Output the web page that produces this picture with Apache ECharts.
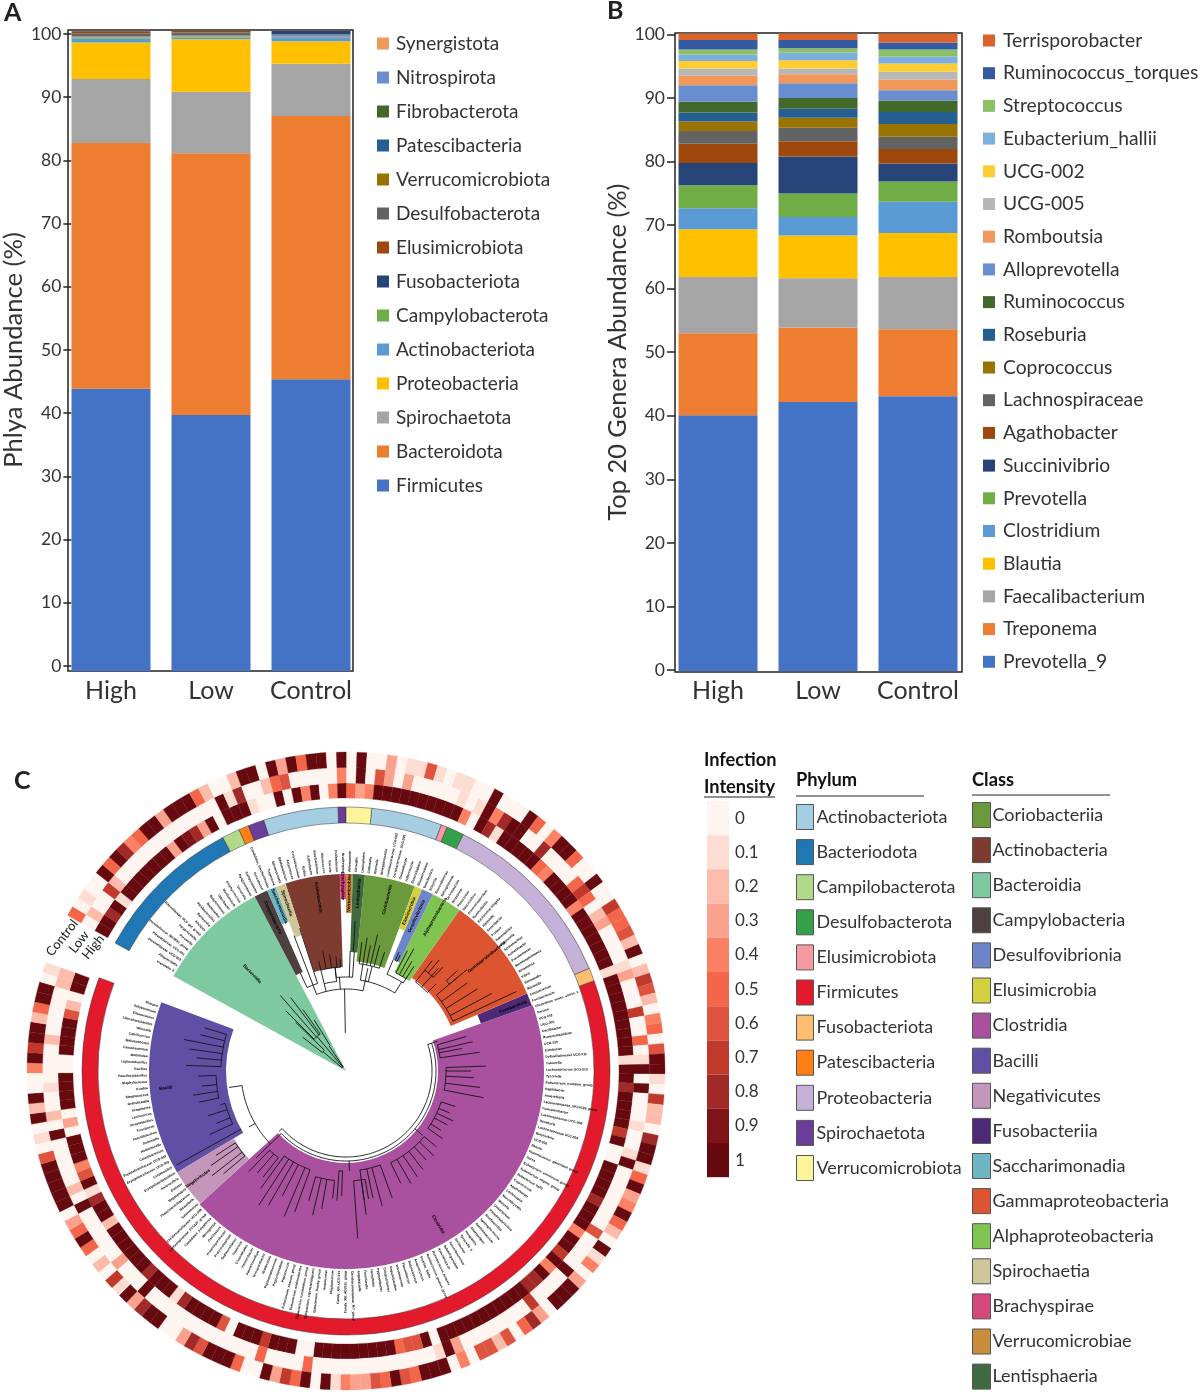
<!DOCTYPE html>
<html><head><meta charset="utf-8"><title>Chart</title>
<script src="https://cdn.jsdelivr.net/npm/echarts@6/dist/echarts.min.js"></script>
<style>html,body{margin:0;padding:0;background:#fff}#c{width:1200px;height:1396px}</style></head>
<body><div id="c"></div>
<script>
const groups=['High','Low','Control'];
const phylaNames=['Firmicutes','Bacteroidota','Spirochaetota','Proteobacteria','Actinobacteriota','Campylobacterota','Verrucomicrobiota','Patescibacteria','Fibrobacterota','Synergistota','Nitrospirota','Desulfobacterota','Elusimicrobiota','Fusobacteriota'];
const phylaColors=['#4472c4','#ed7d31','#a5a5a5','#ffc000','#5b9bd5','#70ad47','#997300','#255e91','#43682b','#f1975a','#698ed0','#636363','#9e480e','#264478'];
const phylaHigh=[44.1,38.4,10.0,5.7,0.6,0.15,0.03,0.02,0.03,0.02,0.1,0.5,0.3,0.05];
const phylaLow=[40.0,40.9,9.6,8.2,0.3,0.1,0.03,0.02,0.03,0.02,0.1,0.45,0.25,0];
const phylaControl=[45.6,41.1,8.2,3.5,0.6,0.03,0.02,0.02,0.03,0.02,0.25,0.1,0.03,0.5];
const phylaLegendOrder=['Synergistota','Nitrospirota','Fibrobacterota','Patescibacteria','Verrucomicrobiota','Desulfobacterota','Elusimicrobiota','Fusobacteriota','Campylobacterota','Actinobacteriota','Proteobacteria','Spirochaetota','Bacteroidota','Firmicutes'];
const generaNames=['Prevotella_9','Treponema','Faecalibacterium','Blautia','Clostridium','Prevotella','Succinivibrio','Agathobacter','Lachnospiraceae','Coprococcus','Roseburia','Ruminococcus','Alloprevotella','Romboutsia','UCG-005','UCG-002','Eubacterium_hallii','Streptococcus','Ruminococcus_torques','Terrisporobacter'];
const generaColors=['#4472c4','#ed7d31','#a5a5a5','#ffc000','#5b9bd5','#70ad47','#264478','#9e480e','#636363','#997300','#255e91','#43682b','#698ed0','#f1975a','#b7b7b7','#ffcd33','#7cafdd','#8cc168','#335aa1','#d9632a'];
const generaHigh=[40.1,12.9,8.8,7.5,3.3,3.6,3.5,3.0,2.0,1.5,1.4,1.7,2.6,1.5,1.1,1.2,1.0,0.8,1.5,1.0];
const generaLow=[42.2,11.7,7.7,6.7,2.9,3.7,5.8,2.4,2.1,1.6,1.4,1.7,2.3,1.4,0.9,1.3,1.2,0.7,1.3,1.0];
const generaControl=[43.1,10.5,8.2,6.9,4.9,3.2,2.8,2.3,1.9,2.0,1.9,1.8,1.6,1.7,1.2,1.3,1.1,1.1,1.1,1.4];
const heatHigh=[1,1,.8,1,.1,1,1,1,1,1,1,1,.3,1,.9,.8,.3,1,0,1,1,1,.1,0,0,1,0,1,.4,1,0,.4,
1,.5,.3,.4,1,1,1,1,1,1,1,1,1,1,.4,0,1,.8,.1,1,1,1,1,1,.5,.4,1,1,1,1,.4,1,1,1,1,1,1,1,.1,1,1,1,1,1,1,1,1,1,.1,
1,1,.8,1,1,1,1,.7,1,0,0,1,1,1,1,.8,1,1,1,.4,1,1,.7,1,.4,1,.8,.8,1,1,1,1,1,1,1,1,1,1,1,0,1,.6,.6,.5,1,1,1,1,1,
1,1,1,1,0,0,1,1,1,.7,1,1,1,0,.6,1,1,1,1,.8,.1,1,1,1,.8,1,1,1,1,1,1,.2,1,1,.8,.1,1,.6,.4,1,1,1,0,.3,0,1,1,1,1,0,0,1,1,1,1,.6,.2,0,1,1];
const heatLow=[0,.2,0,0,.7,.2,0,0,0,0,0,0,0,0,0,0,0,0,0,1,.1,.8,0,0,.2,.5,.6,0,0,0,0,0,
.4,0,1,0,.6,.3,0,.3,0,0,0,0,0,.1,0,.1,1,.4,.8,1,1,0,0,.8,0,0,0,0,.5,.7,.5,0,.2,.3,0,0,0,0,.1,.3,0,0,0,.7,0,0,.5,0,.1,
1,0,1,0,0,0,.1,0,0,.1,1,0,0,0,0,0,0,0,.6,0,0,0,0,1,0,0,0,0,.7,0,0,0,0,0,0,0,0,.3,1,.1,0,0,0,0,0,0,0,0,0,
0,0,0,0,.5,0,0,0,0,.5,0,0,0,0,0,0,0,0,0,0,0,0,0,1,0,0,0,.3,0,0,0,0,0,0,1,0,.2,0,0,0,0,0,1,0,.2,0,0,.1,0,0,0,0,.2,0,0,0,0,0,.2,.2];
const heatControl=[.5,0,.1,0,0,1,.5,1,.8,.4,.5,1,1,.3,1,1,1,.5,.2,0,0,.2,1,1,0,1,.3,1,.5,1,1,0,
1,0,1,0,0,.3,0,.1,.1,.6,.1,0,.1,.1,0,0,1,0,0,0,1,.5,0,.4,1,1,.5,0,0,1,0,0,.7,.5,.5,.6,.2,1,0,.2,.7,.6,.2,0,.4,.5,0,.6,1,
1,.1,0,.7,.2,.2,0,.8,1,1,.1,.5,1,.3,.4,1,.5,.2,0,1,.1,.4,0,.3,1,1,1,0,.3,.8,.5,0,.6,.2,.6,.6,0,.4,0,1,1,1,.5,.6,1,.5,.6,.3,.3,
.4,.1,1,0,1,.5,.7,.3,1,0,0,.5,1,1,1,.6,.8,.3,0,0,1,1,.8,.3,1,.1,.7,0,.2,0,.5,1,.5,.3,0,1,1,1,1,1,.6,0,.1,0,1,.2,1,0,0,.4,1,.7,1,1,.2,.5,1,1,0,.1];
const heatColors=['#fef5f0','#fddcd2','#fcbcab','#fba28e','#fb8064','#f4664a','#de5340','#c0392b','#a12a28','#7f1418','#670a10'];
const heatLevels=[0,.1,.2,.3,.4,.5,.6,.7,.8,.9,1];
const heatStartAngle=-60.8;
const heatCell=1.846;
const ringBands=[[273,288],[288,303.5],[303.5,319]];
const phylumOrder=['Actinobacteriota','Bacteriodota','Campilobacterota','Desulfobacterota','Elusimicrobiota','Firmicutes','Fusobacteriota','Patescibacteria','Proteobacteria','Spirochaetota','Verrucomicrobiota'];
const phylumColors=['#a6cee3','#1f78b4','#b2d98a','#33a04a','#f49aa0','#e31a2c','#fdbf6f','#ff7f14','#c5b0d8','#6a3d9a','#fbf49a'];
const phylumArcs=[[[-18.2,-1.7],[5.6,21.2]],[[-61,-27.8]],[[-27.8,-23.9]],[[22.5,26.4]],[[21.2,22.5]],[[70,290.7]],[[67.1,70]],[[-23.9,-21.7]],[[26.4,67.1]],[[-21.7,-18.2],[-1.7,0]],[[0,5.6]]];
const classOrder=['Coriobacteriia','Actinobacteria','Bacteroidia','Campylobacteria','Desulfovibrionia','Elusimicrobia','Clostridia','Bacilli','Negativicutes','Fusobacteriia','Saccharimonadia','Gammaproteobacteria','Alphaproteobacteria','Spirochaetia','Brachyspirae','Verrucomicrobiae','Lentisphaeria'];
const classColors=['#6b9a3c','#7e3c30','#7fc9a0','#4e4040','#6e85c9','#d5d040','#a9509f','#6050a5','#c596bb','#4e2a76','#6fb5c4','#dd5530','#80c452','#cfc69a','#d6487a','#c98c3c','#3f6a3f'];
const classAngles=[[5.5,20.4],[-17.9,-1.8],[-61.2,-27.6],[-27.6,-23.6],[22.7,26.2],[20.4,22.7],[70.6,227.7],[239,290.4],[227.7,239],[66.8,70.6],[-23.6,-20.9],[35.2,66.8],[26.2,35.2],[-20.9,-17.9],[-1.8,0],[0,2],[2,5.5]];
const classInnerR=[110,104,0,108,121,152,92,120,131,143,160,114,110,143,172,158,119];
const classOuterR=[197,197,197,197,197,197,198,197,197,197,197,197,197,197,197,197,197];
const classLabelPos=[[13.5,176],[-9,176],[-44,135],[-25.5,170],[24.5,170],[21.5,172],[149,179],[264.6,181],[234,183],[69,179],[-22,178],[51,181],[30,178],[-19.4,178],[-1,185],[1,178],[4,178]];
const leafBacteroidia=['Prevotella_9','Alloprevotella','Prevotellaceae_UCG-003','Prevotellaceae_UCG-001','Prevotellaceae_NK3B31_group','Prevotella','Paraprevotella','Rikenellaceae_RC9_gut_group','Alistipes','Barnesiella','Parabacteroides','Bacteroides','Butyricimonas','Odoribacter','Muribaculum','Porphyromonas','Tannerella','Dysgonomonas'];
const leafOthersTop=['Campylobacter','Helicobacter','Candidatus_Saccharimonas','Treponema','Sphaerochaeta','Bifidobacterium','Actinomyces','Corynebacterium','Rothia','Arthrobacter','Brevibacterium','Micrococcus','Kocuria','Cutibacterium','Brachyspira','Akkermansia','Victivallis','Lentisphaera','Collinsella','Olsenella','Senegalimassilia','Coriobacteriaceae_UCG-002','Coriobacteriaceae_UCG-003','Gordonibacter','Adlercreutzia','Enterorhabdus','Elusimicrobium','Desulfovibrio','Bilophila','Brevundimonas','Sphingomonas','Ochrobactrum','Rhizobium','Paracoccus','Succinivibrio','Anaerobiospirillum','Ruminobacter','Escherichia-Shigella','Klebsiella','Enterobacter','Proteus','Haemophilus','Pasteurella','Actinobacillus','Acinetobacter','Pseudomonas','Stenotrophomonas','Aeromonas','Vibrio','Shewanella','Moraxella','Cetobacterium','Fusobacterium'];
const leafClostridia=['Clostridium_sensu_stricto_1','Sarcina','UCG-002','UCG-005','Oscillibacter','Ruminiclostridium','UCG-010','Catabacter','Defluviitaleaceae UCG-011','Tuzzerella','Lachnospiraceae UCG-010','Tyzzerella','Eubacterium_nodatum_group','Papillibacter','Anaerofustis','Lachnospiraceae_NK4A136_group','Fusicatenibacter','Lachnospiraceae UCG-008','Roseburia','Lachnospiraceae UCG-004','Butyrivibrio','UCG-009','Blautia','Ruminococcus_gauvreauii_group','Dorea','Eubacterium_ventriosum_group','Eubacterium_eligens_group','Eubacterium_hallii','Coprococcus','Agathobacter','Lachnospira','Marvinbryantia','Moryella','Oribacterium','Pseudobutyrivibrio','Shuttleworthia','Syntrophococcus','Acetitomaculum','Anaerostipes','Hungatella','Tyzzerella_3','Sellimonas','Faecalibacterium','Subdoligranulum','Ruminococcus','Ruminococcus_torques','Ruminococcus_gnavus_group','Incertae_Sedis','Anaerotruncus','Butyricicoccus','Flavonifractor','Intestinimonas','Negativibacillus','Colidextribacter','Pygmaiobacter','Harryflintia','Fournierella','Angelakisella','Christensenellaceae_R-7_group','Family_XIII_AD3011_group','Family_XIII_UCG-001','Mogibacterium','Anaerovorax','Eubacterium_brachy_group','Eubacterium_coprostanoligenes','Eubacterium_ruminantium_group','Eubacterium_oxidoreducens','Eubacterium_siraeum_group','Peptococcus','Peptoclostridium','Peptostreptococcus','Romboutsia','Terrisporobacter','Paeniclostridium','Intestinibacter','Clostridioides','Tissierella','Sedimentibacter','Proteiniclasticum','Anaerosporobacter','Oscillospira','Monoglobus','Candidatus_Soleaferrea','Lachnospiraceae_FCS020_group','Christensenellaceae_UCG-008'];
const leafNegativicutes=['Selenomonas','Mitsuokella','Phascolarctobacterium','Megasphaera','Dialister','Anaerovibrio'];
const leafBacilli=['Erysipelatoclostridium','Lactobacillus','Erysipelotrichaceae_UCG-009','Erysipelotrichaceae_UCG-003','Catenibacterium','Holdemanella','Dubosiella','Faecalibaculum','Turicibacter','Streptobacillus','Lactococcus','Ureaplasma','Granulicatella','Streptococcus','Kurthia','Staphylococcus','Paucilactobacillus','Bacillus','Ligilactobacillus','Mobilitalea','Carnobacterium','Melissococcus','Catellicoccus','Weissella','Limosilactobacillus','Enterococcus','Solobacterium','Sharpea'];
// tree combs: base radius, then (angle, tip radius) pairs
const treeCombs=[[5,-50,30,-40,45,-34,30],[30,-52,55,-46,70],[45,-45,85,-41,100,-37,92,-35,75],[30,-32,60],
[38,-1,82],[82,-21,92,-14,90,-4,94,12,92],[92,-25,108,-21,145,-18,150],[90,-14,104,-6,104],[94,-6,105,2,120,4,120],[92,9,108,14,108],[92,12,105,32,105],[105,23,121,33,112],
[104,-14,113,-11,122,-8,118,-5,115,-3,112],[120,3.5,150],[108,7,130,9,135,11,128,13,140,15,130,18,125],[121,24,130,25,128],[110,27,135,29,140,31,128,33,125],
[113,38,128,42,138,46,125],[128,38,140,40,145,43,142],[118,50,145,54,150,58,155,62,165,65,188],[135,48,150,50,158],
[86,72,90,228,90],[90,72,96,130,100,178,100,226,105],[95,74,125,77,130,79,118,82,135],[100,88,140,90,125,93,128,97,135,101,140],[100,108,115,112,112,115,118,118,115,122,112,125,118],[102,130,118,134,122,138,120,142,125,146,128,150,130,154,125],[100,160,135,165,140,168,130,172,130],[110,170,130,176,168,172,145],[100,182,125,184,130],[110,186,128,190,140,193,148,196,135],[105,200,150,203,158,207,140,210,155,213,160,216,145],[110,218,135,221,135,224,140],
[132,230,160,232,170,235,165,237,155],[105,226,125,240,112,262,118],[120,241,194],[125,245,150,248,140,252,145,255,130],[130,258,150,261,155,264,145,268,148],[125,272,160,275,150,278,158,281,165,284,150,287,148]];

const classLeafLabels=[...leafBacteroidia,...leafOthersTop,...leafClostridia,...leafNegativicutes,...leafBacilli];
const leafOuter=i=>{const a=heatStartAngle+(i+.5)*heatCell;const k=classAngles.findIndex(c=>a>=c[0]&&a<=c[1]);return k<0?197:classOuterR[k]};

function pol(api,r,a){return api.coord([r,(a%360+360)%360]);}
function sectorShape(params,api,a0,a1,r0,r1){
  const c=params.coordSys,p0=pol(api,r0,a0),p1=pol(api,r1,a0),p2=pol(api,r1,a1);
  let s=Math.atan2(p1[1]-c.cy,p1[0]-c.cx),e=Math.atan2(p2[1]-c.cy,p2[0]-c.cx);
  if(e<=s)e+=2*Math.PI;
  return {cx:c.cx,cy:c.cy,r0:Math.hypot(p0[0]-c.cx,p0[1]-c.cy),r:Math.hypot(p1[0]-c.cx,p1[1]-c.cy),startAngle:s,endAngle:e,clockwise:true};
}
const LF='Lato, "Open Sans", sans-serif';
const series=[];
function barSeries(names,colors,rows,xi,stack){
  names.forEach((n,i)=>series.push({name:n,type:'bar',stack,xAxisIndex:xi,yAxisIndex:xi,barWidth:79,itemStyle:{color:colors[i]},silent:true,data:rows.map(r=>r[i])}));
}
barSeries(phylaNames,phylaColors,[phylaHigh,phylaLow,phylaControl],2,'a');
barSeries(generaNames,generaColors,[generaHigh,generaLow,generaControl],5,'b');
// class wedges
classOrder.forEach((n,i)=>series.push({name:n,type:'custom',coordinateSystem:'polar',silent:true,itemStyle:{color:classColors[i]},z:2,
  data:[[classInnerR[i],classAngles[i][0],classOuterR[i],classAngles[i][1]]],
  renderItem(params,api){return {type:'sector',shape:sectorShape(params,api,api.value(1),api.value(3),api.value(0),api.value(2)),style:{fill:classColors[i]}};}}));
// phylum ring
phylumOrder.forEach((n,i)=>series.push({name:'phylum:'+n,type:'custom',coordinateSystem:'polar',silent:true,itemStyle:{color:phylumColors[i]},z:2,
  data:phylumArcs[i].map(a=>[248,a[0],264,a[1]]),
  renderItem(params,api){return {type:'sector',shape:sectorShape(params,api,api.value(1),api.value(3),api.value(0),api.value(2)),style:{fill:phylumColors[i],stroke:'#333',lineWidth:.5}};}}));
// heat rings
const heatRows=[];
[heatHigh,heatLow,heatControl].forEach((arr,k)=>arr.forEach((v,i)=>heatRows.push([ringBands[k][0],heatStartAngle+i*heatCell,v,ringBands[k][1],heatStartAngle+(i+1)*heatCell])));
const heatIndex=series.length;
series.push({name:'heat',type:'custom',coordinateSystem:'polar',silent:true,z:2,data:heatRows,
  renderItem(params,api){const col=api.visual('color');return {type:'sector',shape:sectorShape(params,api,api.value(1),api.value(4),api.value(0),api.value(3)),style:{fill:col,stroke:col,lineWidth:.3}};}});
// tree
const treeRows=[];
treeCombs.forEach(c=>{const base=c[0],ang=[];for(let i=1;i<c.length;i+=2){ang.push(c[i]);treeRows.push([base,c[i],c[i+1],c[i]]);}
  if(ang.length>1)treeRows.push([base,Math.min(...ang),base,Math.max(...ang)]);});
series.push({name:'tree',type:'custom',coordinateSystem:'polar',silent:true,z:3,data:treeRows,
  renderItem(params,api){const r0=api.value(0),a0=api.value(1),r1=api.value(2),a1=api.value(3),pts=[];
    const n=a0===a1?1:Math.ceil(Math.abs(a1-a0)/1.5);
    for(let i=0;i<=n;i++)pts.push(pol(api,r0+(r1-r0)*i/n,a0+(a1-a0)*i/n));
    return {type:'polyline',shape:{points:pts},style:{stroke:'#141414',lineWidth:.9,fill:null}};}});
function radialText(params,api,r,a,text,size,anchor,bold){
  const c=params.coordSys,p=pol(api,r,a),th=Math.atan2(p[1]-c.cy,p[0]-c.cx),left=Math.cos(th)<0;
  return {type:'text',x:p[0],y:p[1],rotation:left?-(th+Math.PI):-th,
    style:{text,fontSize:size,fontFamily:'Liberation Sans, Arial, sans-serif',fontWeight:bold?'bold':'normal',fill:'#000',align:anchor?(left?'right':'left'):'center',verticalAlign:'middle'}};
}
// leaf labels
series.push({name:'leaves',type:'custom',coordinateSystem:'polar',silent:true,z:4,
  data:classLeafLabels.map((n,i)=>[leafOuter(i)+2,heatStartAngle+(i+.5)*heatCell]),
  renderItem(params,api){return radialText(params,api,api.value(0),api.value(1),classLeafLabels[params.dataIndex],3.3,true,true);}});
// class labels in wedges
series.push({name:'classLabels',type:'custom',coordinateSystem:'polar',silent:true,z:4,
  data:classLabelPos.map(p=>[p[1],p[0]]),
  renderItem(params,api){return radialText(params,api,api.value(0),api.value(1),classOrder[params.dataIndex],4.5,false,true);}});

function ticksY(name,gap,size){return {type:'value',gridIndex:0,min:0,max:100,interval:10,name,nameLocation:'middle',nameGap:gap,nameTextStyle:{fontFamily:LF,fontSize:size,color:'#333'},
  axisLine:{show:false},splitLine:{show:false},axisTick:{show:true,inside:false,length:8,lineStyle:{color:'#222',width:1.5}},axisLabel:{fontFamily:LF,fontSize:17.5,color:'#333',margin:10}};}
const hideX=g=>({type:'category',gridIndex:g,data:groups,show:false});
const hideY=g=>({type:'value',gridIndex:g,min:0,max:100,show:false});
const showX=g=>({type:'category',gridIndex:g,data:groups,axisLine:{show:false},axisTick:{show:false},axisLabel:{fontFamily:LF,fontSize:25,color:'#333',margin:7,interval:0}});
const grids=[
 {left:68,top:34,width:285,height:632},{left:68,top:30,width:285,height:641,show:true,borderColor:'#222',borderWidth:1.5,backgroundColor:'transparent'},{left:61,top:31,width:300,height:640},
 {left:675,top:34.3,width:287,height:635.7},{left:675,top:33,width:287,height:639,show:true,borderColor:'#222',borderWidth:1.5,backgroundColor:'transparent'},{left:668,top:33.5,width:300,height:637.5}];
const yB=ticksY('Top 20 Genera Abundance (%)',44,25.4);yB.gridIndex=3;
const legendBase={orient:'vertical',icon:'rect',selectedMode:false,textStyle:{fontFamily:LF,fontSize:19,color:'#333'}};
const option={animation:false,backgroundColor:'#fff',
 grid:grids,
 polar:{center:[346,1071],radius:319},
 angleAxis:{type:'value',min:0,max:360,startAngle:90,clockwise:true,show:false},
 radiusAxis:{type:'value',min:0,max:319,show:false},
 xAxis:[hideX(0),hideX(1),showX(2),hideX(3),hideX(4),showX(5)],
 yAxis:[ticksY('Phlya Abundance (%)',44,25.6),hideY(1),hideY(2),yB,hideY(4),hideY(5)],
 legend:[
  {...legendBase,left:372,top:29,itemWidth:12,itemHeight:12,itemGap:15,textStyle:{...legendBase.textStyle,padding:[0,0,0,2]},data:phylaLegendOrder},
  {...legendBase,left:978,top:26,itemWidth:12,itemHeight:12,itemGap:13.7,textStyle:{...legendBase.textStyle,fontSize:19.3,padding:[0,0,0,3]},data:generaNames.slice().reverse()},
  {...legendBase,left:791,top:799,itemWidth:17,itemHeight:25,itemGap:9.1,textStyle:{...legendBase.textStyle,fontSize:17.9,padding:[0,0,0,-2]},itemStyle:{borderColor:'#555',borderWidth:1},data:phylumOrder.map(n=>'phylum:'+n),formatter:n=>n.replace('phylum:','')},
  {...legendBase,left:967,top:797,itemWidth:18,itemHeight:25,itemGap:9.1,textStyle:{...legendBase.textStyle,fontSize:18,padding:[0,0,0,-3]},itemStyle:{borderColor:'#555',borderWidth:1},data:classOrder}
 ],
 visualMap:[{type:'piecewise',seriesIndex:heatIndex,dimension:2,left:692,top:786,orient:'vertical',inverse:true,align:'left',itemWidth:22,itemHeight:34.2,itemGap:0,itemSymbol:'rect',selectedMode:false,textGap:6,
   textStyle:{fontFamily:LF,fontSize:17,color:'#333'},
   pieces:heatLevels.map((v,i)=>({value:v,label:String(v),color:heatColors[i]}))}],
 title:[
  {text:'A',left:-1,top:-5,textStyle:{fontFamily:LF,fontSize:25,fontWeight:'bold',color:'#222'}},
  {text:'B',left:602,top:-7,textStyle:{fontFamily:LF,fontSize:25,fontWeight:'bold',color:'#222'}},
  {text:'C',left:9,top:763,textStyle:{fontFamily:LF,fontSize:25,fontWeight:'bold',color:'#222'}},
  {text:'Infection\nIntensity',left:699,top:742,textStyle:{fontFamily:LF,fontSize:18.2,fontWeight:'bold',color:'#111',lineHeight:27}},
  {text:'Phylum',left:791,top:766,textStyle:{fontFamily:LF,fontSize:18.3,fontWeight:'bold',color:'#111'}},
  {text:'Class',left:967,top:766,textStyle:{fontFamily:LF,fontSize:18.3,fontWeight:'bold',color:'#111'}}
 ],
 graphic:[
  {type:'line',z:100,shape:{x1:704,y1:797,x2:775,y2:797},style:{stroke:'#222',lineWidth:1}},
  {type:'line',z:100,shape:{x1:796,y1:796,x2:924,y2:796},style:{stroke:'#222',lineWidth:1}},
  {type:'line',z:100,shape:{x1:972,y1:795,x2:1110,y2:795},style:{stroke:'#222',lineWidth:1}},
  {type:'text',z:100,x:62,y:938,rotation:.9,style:{text:'Control',fontFamily:LF,fontSize:13,fill:'#222',align:'center',verticalAlign:'middle'}},
  {type:'text',z:100,x:79,y:942,rotation:.9,style:{text:'Low',fontFamily:LF,fontSize:13,fill:'#222',align:'center',verticalAlign:'middle'}},
  {type:'text',z:100,x:93,y:947,rotation:.9,style:{text:'High',fontFamily:LF,fontSize:13,fill:'#222',align:'center',verticalAlign:'middle'}}
 ],
 series};
const chart=echarts.init(document.getElementById('c'),null,{renderer:'canvas'});
chart.setOption(option);
</script></body></html>
